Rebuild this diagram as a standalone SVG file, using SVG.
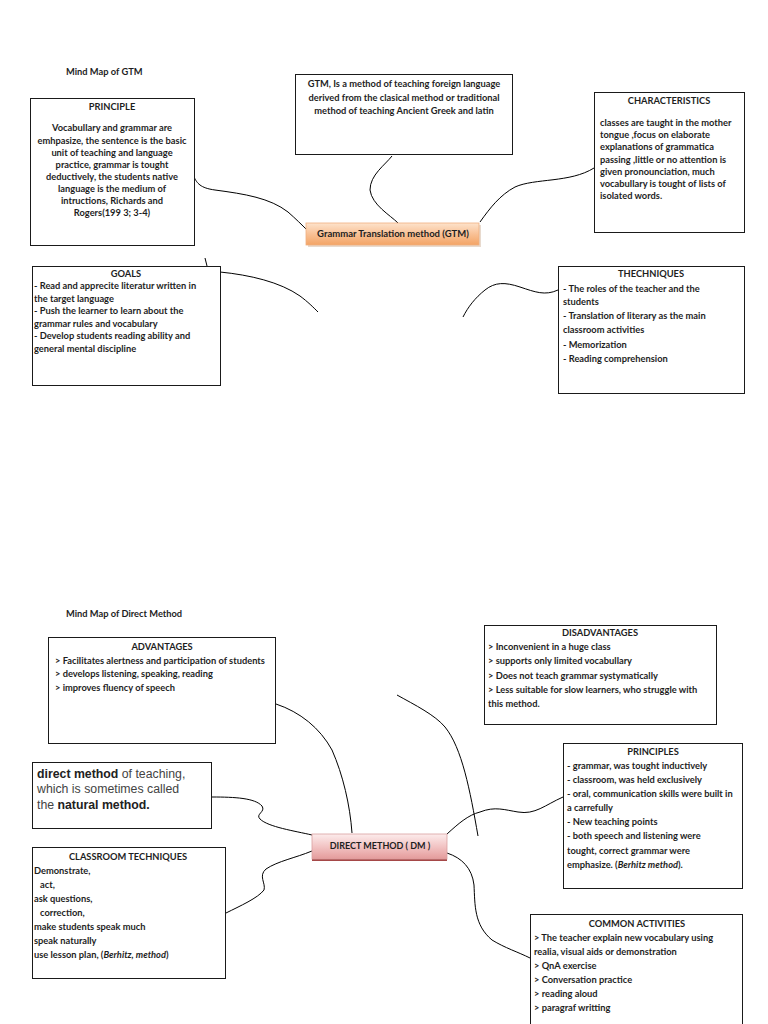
<svg xmlns="http://www.w3.org/2000/svg" width="768" height="1024" viewBox="0 0 768 1024">
<defs>
<linearGradient id="gOrange" x1="0" y1="0" x2="0" y2="1">
<stop offset="0" stop-color="#fde3cc"/>
<stop offset="0.5" stop-color="#f9c196"/>
<stop offset="1" stop-color="#f3a465"/>
</linearGradient>
<linearGradient id="gPink" x1="0" y1="0" x2="0" y2="1">
<stop offset="0" stop-color="#fcecec"/>
<stop offset="0.5" stop-color="#f2c4c4"/>
<stop offset="1" stop-color="#e49b9b"/>
</linearGradient>
<style>
.bx{fill:#fff;stroke:#1a1a1a;stroke-width:1}
.t{font-family:Lato,"Liberation Sans",sans-serif;font-size:9.3px;font-weight:bold;fill:#1e1e1e}
.c{text-anchor:middle}
.ln{fill:none;stroke:#000;stroke-width:1}
.ar{font-family:"Liberation Sans",Arial,sans-serif;font-size:12.3px;fill:#444}
.arb{font-weight:bold;fill:#222}
</style>
</defs>
<rect width="768" height="1024" fill="#fff"/>

<g id="connectors">
<path class="ln" d="M194,177 C197,183 200,188 215,190 C245,194 270,198 288,212 C296,219 302,225 307,230"/>
<path class="ln" d="M392,156 C385,165 370,175 370,190 C372,205 390,215 398,223"/>
<path class="ln" d="M480,222 C490,208 500,195 515,187 C535,178 570,183 594,168"/>
<path class="ln" d="M205,258 L207,266"/>
<path class="ln" d="M220,272 C250,275 280,282 300,296 C308,302 313,307 318,312"/>
<path class="ln" d="M558,290 C545,296 535,292 520,287 C505,282 495,282 485,290 C475,298 468,307 463,317"/>
<path class="ln" d="M276,704 C300,712 320,728 332,750 C343,775 350,805 352,833"/>
<path class="ln" d="M397,695 C415,705 435,715 445,727 C462,748 470,790 478,836"/>
<path class="ln" d="M212,797 C235,797 255,798 262,806 C266,812 255,814 260,819 C268,827 295,831 312,835"/>
<path class="ln" d="M226,913 C240,906 258,898 264,890 C266,883 258,876 266,869 C278,861 295,858 312,851"/>
<path class="ln" d="M447,834 C458,824 468,815 480,812 C495,806 505,810 518,812 C535,815 545,805 563,797"/>
<path class="ln" d="M447,853 C462,858 472,868 474,885 C475,905 474,925 492,940 C505,948 518,952 530,958"/>
</g>

<text class="t" x="66" y="75">Mind Map of GTM</text>

<g id="principle">
<rect class="bx" x="30.5" y="98.5" width="164" height="147"/>
<text class="t c" x="112" y="110">PRINCIPLE</text>
<text class="t c" x="112" y="131">Vocabullary and grammar are</text>
<text class="t c" x="112" y="144">emhpasize, the sentence is the basic</text>
<text class="t c" x="112" y="156">unit of teaching and language</text>
<text class="t c" x="112" y="168">practice, grammar is tought</text>
<text class="t c" x="112" y="180">deductively, the students native</text>
<text class="t c" x="112" y="192">language is the medium of</text>
<text class="t c" x="112" y="204">intructions, Richards and</text>
<text class="t c" x="112" y="216">Rogers(199 3; 3-4)</text>
</g>

<g id="gtm-definition">
<rect class="bx" x="295.5" y="74.5" width="217" height="80"/>
<text class="t c" x="404" y="87">GTM, Is a method of teaching foreign language</text>
<text class="t c" x="404" y="101">derived from the clasical method or traditional</text>
<text class="t c" x="404" y="114">method of teaching Ancient Greek and latin</text>
</g>

<g id="characteristics">
<rect class="bx" x="594.5" y="92.5" width="150" height="140"/>
<text class="t c" x="669" y="104">CHARACTERISTICS</text>
<text class="t" x="600" y="126">classes are taught in the mother</text>
<text class="t" x="600" y="138">tongue ,focus on elaborate</text>
<text class="t" x="600" y="150">explanations of grammatica</text>
<text class="t" x="600" y="163">passing ,little or no attention is</text>
<text class="t" x="600" y="175">given pronounciation, much</text>
<text class="t" x="600" y="187">vocabullary is tought of lists of</text>
<text class="t" x="600" y="199">isolated words.</text>
</g>

<g id="gtm">
<rect x="308" y="225" width="173" height="22" fill="#d9c2ae" opacity="0.6"/>
<rect x="306" y="223" width="173" height="22" fill="url(#gOrange)" stroke="#f0b080" stroke-width="0.8"/>
<text class="t c" x="393" y="237" style="font-size:9.5px">Grammar Translation method (GTM)</text>
</g>

<g id="goals">
<rect class="bx" x="32.5" y="266.5" width="188" height="119"/>
<text class="t c" x="126" y="277">GOALS</text>
<text class="t" x="34" y="289">- Read and apprecite literatur written in</text>
<text class="t" x="34" y="301.5">the target language</text>
<text class="t" x="34" y="314">- Push the learner to learn about the</text>
<text class="t" x="34" y="326.5">grammar rules and vocabulary</text>
<text class="t" x="34" y="339">- Develop students reading ability and</text>
<text class="t" x="34" y="351.5">general mental discipline</text>
</g>

<g id="techniques">
<rect class="bx" x="558.5" y="266.5" width="186" height="127"/>
<text class="t c" x="651" y="277">THECHNIQUES</text>
<text class="t" x="563" y="292">-  The roles of the teacher and the</text>
<text class="t" x="563" y="305">students</text>
<text class="t" x="563" y="319">- Translation of literary as the main</text>
<text class="t" x="563" y="333">classroom activities</text>
<text class="t" x="563" y="348">- Memorization</text>
<text class="t" x="563" y="362">- Reading comprehension</text>
</g>

<text class="t" x="66" y="617">Mind Map of Direct Method</text>

<g id="advantages">
<rect class="bx" x="48.5" y="637.5" width="227" height="106"/>
<text class="t c" x="162" y="650">ADVANTAGES</text>
<text class="t" x="55" y="664">&gt; Facilitates alertness and participation of students</text>
<text class="t" x="55" y="677">&gt; develops listening, speaking, reading</text>
<text class="t" x="55" y="691">&gt; improves fluency of speech</text>
</g>

<g id="disadvantages">
<rect class="bx" x="484.5" y="625.5" width="232" height="99"/>
<text class="t c" x="600" y="636">DISADVANTAGES</text>
<text class="t" x="488" y="650">&gt; Inconvenient in a huge class</text>
<text class="t" x="488" y="664">&gt; supports only limited vocabullary</text>
<text class="t" x="488" y="679">&gt; Does not teach grammar systymatically</text>
<text class="t" x="488" y="693">&gt; Less suitable for slow learners, who struggle with</text>
<text class="t" x="488" y="707">this method.</text>
</g>

<g id="definition-dm">
<rect class="bx" x="32.5" y="762.5" width="179" height="66"/>
<text class="ar" x="37" y="778"><tspan class="arb">direct method</tspan> of teaching,</text>
<text class="ar" x="37" y="793">which is sometimes called</text>
<text class="ar" x="37" y="809">the <tspan class="arb">natural method.</tspan></text>
</g>

<g id="classroom-techniques">
<rect class="bx" x="32.5" y="847.5" width="193" height="131"/>
<text class="t c" x="128" y="860">CLASSROOM TECHNIQUES</text>
<text class="t" x="34" y="874">Demonstrate,</text>
<text class="t" x="40" y="888">act,</text>
<text class="t" x="34" y="902">ask questions,</text>
<text class="t" x="40" y="916">correction,</text>
<text class="t" x="34" y="930">make students speak much</text>
<text class="t" x="34" y="944">speak naturally</text>
<text class="t" x="34" y="958">use lesson plan, (<tspan font-style="italic">Berhitz, method</tspan>)</text>
</g>

<g id="dm">
<rect x="312" y="836" width="135" height="25" fill="#a54848"/>
<rect x="312" y="834" width="135" height="25" fill="url(#gPink)" stroke="#d9a0a0" stroke-width="0.8"/>
<text class="t c" x="380" y="849" style="font-size:9px">DIRECT METHOD ( DM )</text>
</g>

<g id="principles">
<rect class="bx" x="563.5" y="743.5" width="179" height="145"/>
<text class="t c" x="653" y="755">PRINCIPLES</text>
<text class="t" x="567" y="769">- grammar, was tought inductively</text>
<text class="t" x="567" y="783">- classroom, was held exclusively</text>
<text class="t" x="567" y="797">- oral, communication skills were built in</text>
<text class="t" x="567" y="811">a carrefully</text>
<text class="t" x="567" y="825">- New teaching points</text>
<text class="t" x="567" y="839">-  both speech and listening were</text>
<text class="t" x="567" y="854">tought, correct grammar were</text>
<text class="t" x="567" y="868">emphasize. (<tspan font-style="italic">Berhitz method</tspan>).</text>
</g>

<g id="common-activities">
<rect class="bx" x="530.5" y="914.5" width="212" height="120"/>
<text class="t c" x="637" y="927">COMMON ACTIVITIES</text>
<text class="t" x="534" y="941">&gt; The teacher explain new vocabulary using</text>
<text class="t" x="534" y="955">realia, visual aids or demonstration</text>
<text class="t" x="534" y="969">&gt; QnA exercise</text>
<text class="t" x="534" y="983">&gt; Conversation practice</text>
<text class="t" x="534" y="997">&gt; reading aloud</text>
<text class="t" x="534" y="1011">&gt; paragraf writting</text>
</g>
</svg>
